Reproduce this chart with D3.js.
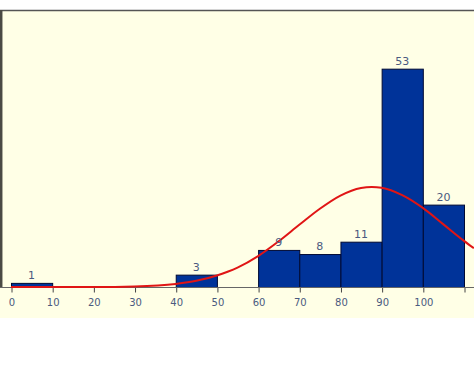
<!DOCTYPE html>
<html>
<head>
<meta charset="utf-8">
<script src="https://cdn.jsdelivr.net/npm/d3@7"></script>
<style>
  body { margin: 0; background: #fff; }
  svg { display: block; }
  text { font-family: "DejaVu Sans", Verdana, sans-serif; }
</style>
</head>
<body>
<svg id="chart" width="474" height="370"></svg>
<script>
// histogram bins (lower edge, upper edge) and counts
const binStarts = [0, 40, 60, 70, 80, 90, 100];
const binEnds = [10, 50, 70, 80, 90, 100, 110];
const counts = [1, 3, 9, 8, 11, 53, 20];

// x axis ticks
const tickValues = [0, 10, 20, 30, 40, 50, 60, 70, 80, 90, 100, 110];
const tickLabels = ['0', '10', '20', '30', '40', '50', '60', '70', '80', '90', '100', ''];

// fitted normal curve
const curveX = [0, 20, 30, 40, 45, 50, 55, 60, 65, 70, 75, 80, 85, 87.6, 90, 95, 100, 105, 110, 112.4];
const curveY = [0, 0.02, 0.15, 0.75, 1.5, 2.8, 4.7, 7.5, 11.1, 15.1, 19.0, 22.2, 24.05, 24.3, 24.1, 22.3, 19.2, 15.2, 11.2, 9.4];

const svg = d3.select('#chart');
const W = 474;
const baseY = 287;

const x = d3.scaleLinear().domain([0, 110]).range([11, 464]);
const y = d3.scaleLinear().domain([0, 67]).range([baseY, 11]);

// background panel
svg.append('rect')
  .attr('x', 0).attr('y', 10)
  .attr('width', W).attr('height', 308)
  .attr('fill', '#ffffe6');

// top border
svg.append('line')
  .attr('x1', 0).attr('x2', W)
  .attr('y1', 10.5).attr('y2', 10.5)
  .attr('stroke', '#555')
  .attr('stroke-width', 1.5);

// left axis
svg.append('line')
  .attr('x1', 1.2).attr('x2', 1.2)
  .attr('y1', 10).attr('y2', baseY)
  .attr('stroke', '#4a4a44')
  .attr('stroke-width', 2.5);

// bars
const bins = counts.map((c, i) => ({start: binStarts[i], end: binEnds[i], count: c}));

svg.append('g')
  .selectAll('rect')
  .data(bins)
  .join('rect')
  .attr('x', d => x(d.start) + 0.5)
  .attr('y', d => y(d.count) + 0.5)
  .attr('width', d => x(d.end) - x(d.start))
  .attr('height', d => baseY - y(d.count))
  .attr('fill', '#003399')
  .attr('stroke', '#000a33')
  .attr('stroke-width', 1);

// x axis
const xAxis = d3.axisBottom(x)
  .tickValues(tickValues)
  .tickFormat((d, i) => tickLabels[i])
  .tickSize(5)
  .tickPadding(6);

const ax = svg.append('g')
  .attr('transform', `translate(0.5,${baseY + 0.5})`)
  .call(xAxis);
ax.select('.domain').remove();
ax.append('line')
  .attr('x1', -1).attr('x2', W)
  .attr('stroke', '#666');
ax.selectAll('.tick line').attr('stroke', '#444');
ax.selectAll('.tick text')
  .attr('fill', '#4a5a80')
  .style('font-size', '10px')
  .style('font-family', '"DejaVu Sans", Verdana, sans-serif');

// normal curve
const line = d3.line()
  .x(d => x(d[0]))
  .y(d => y(d[1]))
  .curve(d3.curveMonotoneX);

svg.append('path')
  .datum(curveX.map((v, i) => [v, curveY[i]]))
  .attr('d', line)
  .attr('fill', 'none')
  .attr('stroke', '#e01515')
  .attr('stroke-width', 2);

// count labels
svg.append('g')
  .selectAll('text')
  .data(bins)
  .join('text')
  .attr('x', d => x((d.start + d.end) / 2))
  .attr('y', d => y(d.count) - 4)
  .attr('text-anchor', 'middle')
  .attr('fill', '#4a5a80')
  .style('font-size', '11px')
  .text(d => d.count);
</script>
</body>
</html>
